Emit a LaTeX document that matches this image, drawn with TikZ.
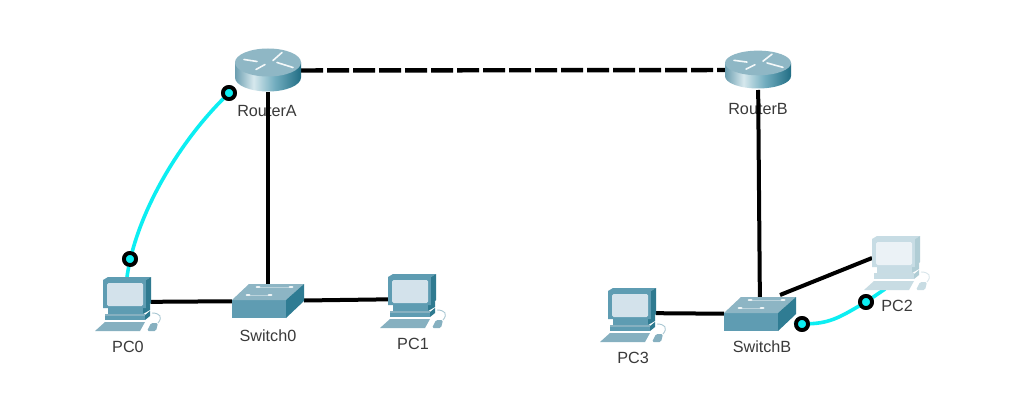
\documentclass[tikz,border=0pt]{standalone}
\usepackage{fontspec}
\setmainfont{Liberation Sans}
\usepackage{tikz}
\usetikzlibrary{positioning, calc}

\definecolor{pcframe}{HTML}{5E9CB2}
\definecolor{pcside}{HTML}{2F7A90}
\definecolor{pcscreen}{HTML}{D3E2EB}
\definecolor{pckeys}{HTML}{86B0C0}
\definecolor{swfront}{HTML}{5F9CB2}
\definecolor{swtop}{HTML}{8DB5C4}
\definecolor{swside}{HTML}{2F7C93}
\definecolor{routertop}{HTML}{8FB7C5}
\definecolor{labelgray}{HTML}{3A3A3A}
\definecolor{linkcyan}{HTML}{0CEEF2}

\pgfdeclarehorizontalshading{routerbody}{100bp}{
	rgb(0bp)=(.42,.62,.69); rgb(25bp)=(.42,.62,.69);
	rgb(39bp)=(.84,.91,.93); rgb(55bp)=(.45,.68,.75);
	rgb(75bp)=(.13,.43,.52); rgb(100bp)=(.13,.43,.52)}

\tikzset{
	device/.style={minimum width=#1, inner sep=0pt, outer sep=0pt},
	devicelabel/.style={inner sep=0pt, text=labelgray, font=\fontsize{16.2}{18}\selectfont},
	cable/.style={line width=4pt, black},
	wanlink/.style={line width=4.4pt, black, dash pattern=on 22pt off 4pt},
	cyanlink/.style={line width=3.6pt, linkcyan},
	portring/.style={circle, draw=black, line width=3.8pt, fill=linkcyan, minimum size=12pt, inner sep=0pt},
	pale/.code={
		\colorlet{pcframe}{pcframe!35!white}\colorlet{pcside}{pcside!38!white}
		\colorlet{pcscreen}{pcscreen!45!white}\colorlet{pckeys}{pckeys!45!white}},
	pcicon/.pic={
		\fill[pckeys] (-22,17) -- (18,17) -- (13,26) -- (-32,26) -- cycle;
		\fill[pckeys, rounded corners=1.5pt] (24,18) -- (31,18) -- (29,26) -- (20,26) -- cycle;
		\draw[pckeys!70!white, line width=.9pt] (31,18) .. controls (36,12) and (33,8) .. (25,8);
		\fill[pcframe] (-19,3) rectangle (16,9);
		\fill[pcside] (16,3) -- (23,-1) -- (23,5) -- (16,9) -- cycle;
		\fill[pckeys] (-22,9) rectangle (18,11);
		\fill[pcframe] (-22,11) rectangle (18,15);
		\fill[pcside] (18,10) -- (23,6) -- (23,11) -- (18,15) -- cycle;
		\fill[pcframe] (-24,-25) -- (-19,-28) -- (24,-28) -- (19,-25) -- (19,3) -- (-24,3) -- cycle;
		\fill[pcside] (19,-25) -- (24,-28) -- (24,-2) -- (19,3) -- cycle;
		\fill[pcscreen, rounded corners=1.5pt] (-20,-22) rectangle (16,1);
	},
	switchicon/.pic={
		\fill[swfront] (-36,-1) rectangle (18,17);
		\fill[swtop] (-36,-1) -- (-19,-17) -- (36,-17) -- (18,-1) -- cycle;
		\fill[swside] (18,-1) -- (36,-17) -- (36,0) -- (18,17) -- cycle;
		\draw[white!40!swtop, line width=.5pt] (-20,-6) -- (2,-6) (-10,-14) -- (23,-14);
		\foreach \dotx/\doty in {-20/-6, 2/-6, -10/-14, 23/-14}
			\fill[white!85!swtop] (\dotx,\doty) ellipse [x radius=2.5pt, y radius=1pt];
	},
	routericon/.pic={
		\path[shading=routerbody] (-33,-8) -- (-33,7)
			arc [start angle=180, end angle=360, x radius=33pt, y radius=14pt] -- (33,-8) -- cycle;
		\fill[routertop] (0,-8) ellipse [x radius=33pt, y radius=14pt];
		\draw[white!90!routertop, line width=1.6pt, line cap=round] (-24,-11) -- (-11,-9);
		\draw[white!90!routertop, line width=1.6pt, line cap=round] (5,-10) -- (14,-18);
		\draw[white!90!routertop, line width=1.6pt, line cap=round] (9,-8) -- (25,-3);
		\draw[white!90!routertop, line width=1.6pt, line cap=round] (-12,-1) -- (-3,-6);
	}
}

\begin{document}
\begin{tikzpicture}[x=1pt, y=-1pt]
	\useasboundingbox (0,0) rectangle (1024,406);
	\fill[white] (0,0) rectangle (1024,406);

	% devices
	\node[device=66pt, minimum height=44pt] (RouterA) at (268,70.5) {};
	\node[device=66pt, minimum height=40pt] (RouterB) at (758,70) {};
	\node[device=72pt, minimum height=34pt] (Switch0) at (268,301) {};
	\node[device=72pt, minimum height=34pt] (SwitchB) at (760,314) {};
	\node[device=48pt, minimum height=50pt] (PC0) at (127,302) {};
	\node[device=48pt, minimum height=50pt] (PC1) at (412,299) {};
	\node[device=48pt, minimum height=50pt] (PC2) at (896,261) {};
	\node[device=48pt, minimum height=50pt] (PC3) at (632,313) {};

	% labels
	\node[devicelabel] (labelRouterA) at (267,111) {RouterA};
	\node[devicelabel] (labelRouterB) at (758,109) {RouterB};
	\node[devicelabel] (labelSwitch0) at (268,336) {Switch0};
	\node[devicelabel] (labelSwitchB) at (762,347) {SwitchB};
	\node[devicelabel] (labelPC0) at (128,347) {PC0};
	\node[devicelabel] (labelPC1) at (413,344) {PC1};
	\node[devicelabel] (labelPC2) at (897,306) {PC2};
	\node[devicelabel] (labelPC3) at (633,358) {PC3};

	% link ends
	\node[portring] (ringA) at (229,93) {};
	\node[portring] (ringB) at (130,259) {};
	\node[portring] (ringC) at (802,324) {};
	\node[portring] (ringD) at (866,302) {};
	\coordinate (SwitchBport) at (780,295);
	\coordinate (PC2port) at (872,258);
	\coordinate (PC2foot) at (885,289);

	% links
	\draw[wanlink] (RouterA) -- (RouterB);
	\draw[cable] (RouterA) -- (Switch0);
	\draw[cable] (RouterB) -- (SwitchB);
	\draw[cable] (PC0) -- (Switch0);
	\draw[cable] (Switch0) -- (PC1);
	\draw[cable] (PC3) -- (SwitchB);
	\draw[cable] (SwitchBport) -- (PC2port);
	\draw[cyanlink] (PC0.north) to[out=82, in=-135, looseness=.8] (ringA);
	\draw[cyanlink] (SwitchB) to[out=-15, in=182] (ringC) to[out=2, in=-150] (ringD) -- (PC2foot);

	% icons
	\pic at (RouterA) {routericon};
	\pic[yscale=.88] at (RouterB) {routericon};
	\pic at (Switch0) {switchicon};
	\pic at (SwitchB) {switchicon};
	\pic at ($(PC0)+(0,3)$) {pcicon};
	\pic at ($(PC1)+(0,3)$) {pcicon};
	\pic[pale] at ($(PC2)+(0,3)$) {pcicon};
	\pic at ($(PC3)+(0,3)$) {pcicon};

	% rings again over the cables
	\node[portring] at (ringA) {};
	\node[portring] at (ringB) {};
	\node[portring] at (ringC) {};
	\node[portring] at (ringD) {};
\end{tikzpicture}
\end{document}
